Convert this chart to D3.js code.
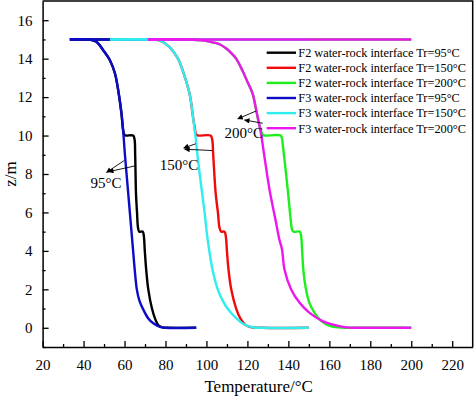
<!DOCTYPE html>
<html>
<head>
    <meta charset="utf-8">
    <title>z vs Temperature</title>
    <script src="https://d3js.org/d3.v7.min.js"></script>
    <style>
        body { margin: 0; background: #fff; }
        text { font-family: "Liberation Serif", "Times New Roman", serif; }
    </style>
</head>
<body>
    <svg width="474" height="399"></svg>
    <script>
        // Series data: temperature (T) against depth (z)
        const labels = [
            "F2 water-rock interface Tr=95°C",
            "F2 water-rock interface Tr=150°C",
            "F2 water-rock interface Tr=200°C",
            "F3 water-rock interface Tr=95°C",
            "F3 water-rock interface Tr=150°C",
            "F3 water-rock interface Tr=200°C"
        ];
        const colors = ["#000000", "#f00a0a", "#1eee1e", "#0c0cc8", "#30eef0", "#ee16ee"];
        const trValues = [95, 150, 200, 95, 150, 200];
        const startT = [33.3, 52.9, 71.4, 33.3, 52.9, 71.4];

        const blueT = [33.3, 42, 46, 49.6, 52.8, 55.3, 56.9, 58.5, 59.3, 60.2, 61, 61.8, 62.6, 63.4, 64.2, 65.0, 66.0, 67.3, 69.1, 71.5, 73.9, 77.2, 80, 95];
        const blueZ = [15, 15, 14.9, 14.44, 13.93, 13.24, 12.37, 11.16, 10.3, 9, 8, 7, 6, 5, 4, 3, 2, 1.4, 0.96, 0.5, 0.25, 0.05, 0, 0];

        const blackT = [33.3, 42, 46, 49.6, 52.8, 55.3, 56.9, 58.5, 59.3, 60, 60.8, 64.2, 64.9, 65.2, 65.6, 66.1, 66.6, 67.2, 68.9, 69.4, 69.9, 70.6, 71.6, 73.4, 75.0, 76.6, 78.5, 81, 95];
        const blackZ = [15, 15, 14.9, 14.44, 13.93, 13.24, 12.37, 11.16, 10.3, 10.03, 10, 10, 9.8, 9, 7, 6, 5.2, 5, 5, 4.8, 4, 3, 2, 1, 0.45, 0.12, 0.02, 0, 0];

        const cyanT = [52.9, 72, 77, 82, 86.1, 89, 91, 92.1, 93.4, 94.6, 95.6, 96.7, 97.9, 99.1, 100.1, 101.4, 103, 105.5, 108, 110.3, 114.5, 118, 122.5, 127, 150];
        const cyanZ = [15, 15, 14.95, 14.6, 14, 13.2, 12.5, 12, 11, 10, 9, 8, 7, 6, 5, 4, 3, 2, 1.4, 1, 0.5, 0.2, 0.03, 0, 0];

        const redT = [52.9, 72, 77, 82, 86.1, 89, 91, 92.1, 93.4, 94.3, 95, 96, 102, 102.8, 103.3, 104.5, 105.6, 106.4, 107.2, 108.8, 109.4, 110, 110.8, 112.1, 114.5, 116.5, 119, 122, 127, 150];
        const redZ = [15, 15, 14.95, 14.6, 14, 13.2, 12.5, 12, 11, 10.4, 10.05, 10, 10, 9.8, 9, 7, 6, 5.2, 5, 5, 4.8, 4, 3, 2, 1, 0.5, 0.15, 0.03, 0, 0];

        const magentaT = [71.4, 92, 98, 103, 106.4, 110, 112.5, 114.5, 117.5, 120, 122.5, 124.3, 125.5, 126.6, 128.3, 130.8, 134, 135.6, 136.9, 138.1, 141.3, 145.4, 150.2, 156.7, 164.9, 170, 175, 200];
        const magentaZ = [15, 15, 14.95, 14.85, 14.75, 14.5, 14.25, 14.0, 13.4, 12.8, 12.2, 11.33, 10.7, 10.12, 8.91, 7.18, 5.46, 4.59, 4.07, 3.03, 2.0, 1.31, 0.79, 0.35, 0.09, 0.01, 0, 0];

        const greenT = [71.4, 92, 98, 103, 106.4, 110, 112.5, 114.5, 117.5, 120, 122.5, 124.3, 125.5, 126.6, 127.6, 128.5, 136.2, 136.9, 137.2, 139.7, 141.3, 141.8, 142.5, 145.6, 146.2, 146.7, 147.3, 148.6, 150.2, 152.7, 155.1, 157.6, 161, 166, 172, 200];
        const greenZ = [15, 15, 14.95, 14.85, 14.75, 14.5, 14.25, 14.0, 13.4, 12.8, 12.2, 11.33, 10.7, 10.25, 10.03, 10, 10, 9.85, 9.6, 7.18, 5.46, 5.1, 5, 5, 4.8, 4.07, 3.03, 2.0, 1.31, 0.79, 0.45, 0.24, 0.08, 0.01, 0, 0];

        const seriesT = [blackT, redT, greenT, blueT, cyanT, magentaT];
        const seriesZ = [blackZ, redZ, greenZ, blueZ, cyanZ, magentaZ];

        // Tick labels
        const xTicks = [20, 40, 60, 80, 100, 120, 140, 160, 180, 200, 220];
        const yTicks = [0, 2, 4, 6, 8, 10, 12, 14, 16];

        // Annotations: label and two arrows (from curve to label), in data units
        const annoText = ["95°C", "150°C", "200°C"];
        const annoPos = [[43.4, 7.29], [77.2, 8.22], [108.8, 9.85]];
        const annoArrows = [
            [[59.8, 8.70, 51.2, 8.08], [65.5, 8.43, 52.2, 8.12]],
            [[94.7, 9.57, 88.9, 9.35], [102.9, 9.22, 89.4, 9.29]],
            [[124.3, 11.28, 115.3, 10.87], [127.5, 10.64, 118.6, 10.81]]
        ];

        const plot = {left: 42.6, right: 472.7, top: 1, bottom: 347};

        const svg = d3.select("svg");

        const x = d3.scaleLinear().domain([20, 230]).range([plot.left, plot.right]);
        const y = d3.scaleLinear().domain([-1, 17]).range([plot.bottom, plot.top]);

        // Arrow marker
        svg.append("defs").append("marker")
            .attr("id", "arrow")
            .attr("viewBox", "0 0 10 10")
            .attr("refX", 9).attr("refY", 5)
            .attr("markerWidth", 8).attr("markerHeight", 5.5)
            .attr("markerUnits", "userSpaceOnUse")
            .attr("orient", "auto")
          .append("path")
            .attr("d", "M0,0 L10,5 L0,10 Z")
            .attr("fill", "#000");

        // Lines
        const line = d3.line()
            .x(d => x(d[0]))
            .y(d => y(d[1]))
            .curve(d3.curveCatmullRom.alpha(0.5));

        const lines = svg.append("g").attr("fill", "none").attr("stroke-width", 2.4);
        seriesT.forEach((ts, i) => {
            // horizontal inlet line at z=15 up to Tr
            lines.append("path")
                .attr("d", d3.line()([[x(startT[i]), y(15)], [x(trValues[i]), y(15)]]))
                .attr("stroke", colors[i]);
            lines.append("path")
                .datum(ts.map((t, j) => [t, seriesZ[i][j]]))
                .attr("d", line)
                .attr("stroke", colors[i])
                .attr("stroke-linejoin", "round");
        });

        // Annotations
        const anno = svg.append("g");
        annoText.forEach((t, i) => {
            anno.append("text")
                .attr("x", x(annoPos[i][0]))
                .attr("y", y(annoPos[i][1]))
                .attr("font-size", 15)
                .text(t);
            annoArrows[i].forEach(a => {
                anno.append("line")
                    .attr("x1", x(a[0])).attr("y1", y(a[1]))
                    .attr("x2", x(a[2])).attr("y2", y(a[3]))
                    .attr("stroke", "#000")
                    .attr("stroke-width", 0.9)
                    .attr("marker-end", "url(#arrow)");
            });
        });

        // Axes: ticks drawn inward, minor ticks in between
        const xAxis = svg.append("g")
            .attr("transform", `translate(0,${plot.bottom})`)
            .call(d3.axisBottom(x).tickValues(xTicks).tickSizeInner(-6).tickSizeOuter(0).tickPadding(12));
        svg.append("g")
            .attr("transform", `translate(0,${plot.bottom})`)
            .call(d3.axisBottom(x).tickValues(d3.range(30, 230, 20)).tickSizeInner(-3).tickSizeOuter(0).tickFormat(""))
            .call(g => g.select(".domain").remove());

        const yAxis = svg.append("g")
            .attr("transform", `translate(${plot.left},0)`)
            .call(d3.axisLeft(y).tickValues(yTicks).tickSizeInner(-6).tickSizeOuter(0).tickPadding(10));
        svg.append("g")
            .attr("transform", `translate(${plot.left},0)`)
            .call(d3.axisLeft(y).tickValues(d3.range(-1, 17, 2)).tickSizeInner(-3).tickSizeOuter(0).tickFormat(""))
            .call(g => g.select(".domain").remove());

        svg.selectAll(".tick line").attr("stroke-width", 1.3);
        svg.selectAll(".domain").attr("stroke-width", 1.5);
        xAxis.selectAll("text").attr("font-size", 15).attr("font-family", "Liberation Serif");
        yAxis.selectAll("text").attr("font-size", 15).attr("font-family", "Liberation Serif");

        // Frame top/right
        svg.append("path")
            .attr("d", `M${plot.left},${plot.top}H${plot.right}V${plot.bottom}`)
            .attr("fill", "none")
            .attr("stroke", "#000")
            .attr("stroke-width", 1.5);

        // Axis titles
        svg.append("text")
            .attr("x", (plot.left + plot.right) / 2 + 1)
            .attr("y", 392)
            .attr("text-anchor", "middle")
            .attr("font-size", 17)
            .text("Temperature/°C");
        svg.append("text")
            .attr("transform", `translate(16,${(plot.top + plot.bottom) / 2}) rotate(-90)`)
            .attr("text-anchor", "middle")
            .attr("font-size", 17)
            .text("z/m");

        // Legend
        const legend = svg.append("g").attr("transform", "translate(266.7,52.7)");
        labels.forEach((l, i) => {
            const row = legend.append("g").attr("transform", `translate(0,${i * 15.1})`);
            row.append("line")
                .attr("x1", 0).attr("x2", 29.3)
                .attr("stroke", colors[i])
                .attr("stroke-width", 2.4);
            row.append("text")
                .attr("x", 31.6).attr("y", 4.3)
                .attr("font-size", 12.3)
                .text(l);
        });
    </script>
</body>
</html>
